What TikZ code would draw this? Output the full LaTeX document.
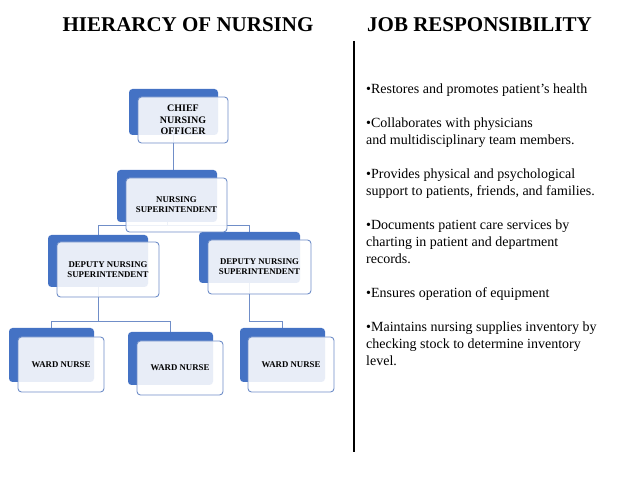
\documentclass[tikz,border=0pt]{standalone}
\usepackage{fontspec}
\setmainfont{Liberation Serif}
\definecolor{backblue}{RGB}{68,114,196}
\definecolor{edgeblue}{RGB}{112,142,200}
\pgfdeclarelayer{background}
\pgfsetlayers{background,main}
\tikzset{
  backbox/.style={draw=none, fill=backblue, rounded corners=3.5pt, inner sep=0pt},
  frontbox/.style={draw=edgeblue, line width=0.9pt, fill=white, fill opacity=0.88, text opacity=1,
     rounded corners=3.5pt, inner sep=0pt, align=center, font=\bfseries\fontsize{8.8}{10}\selectfont},
  conn/.style={draw=edgeblue, line width=0.9pt},
  header/.style={font=\bfseries\fontsize{21}{24}\selectfont, inner sep=0pt},
}
\begin{document}
\begin{tikzpicture}[x=1pt,y=-1pt]
\useasboundingbox (0,0) rectangle (638,478);
% headers
\node[header] (h1) at (188,25) {HIERARCY OF NURSING};
\node[header] (h2) at (479.5,25) {JOB RESPONSIBILITY};
% divider
\coordinate (dtop) at (354,41);
\coordinate (dbot) at (354,452);
\draw[line width=1.6pt] (dtop) -- (dbot);
% back boxes
\node[backbox, minimum width=89pt, minimum height=46pt] (cb) at (173.5,112) {};
\node[backbox, minimum width=100pt, minimum height=52pt] (nsb) at (167,196) {};
\node[backbox, minimum width=100pt, minimum height=52pt] (d1b) at (98,261) {};
\node[backbox, minimum width=101pt, minimum height=51pt] (d2b) at (249.5,257.5) {};
\node[backbox, minimum width=85pt, minimum height=54pt] (w1b) at (51.5,355) {};
\node[backbox, minimum width=85pt, minimum height=53pt] (w2b) at (170.5,358.5) {};
\node[backbox, minimum width=85pt, minimum height=54pt] (w3b) at (282.5,355) {};
% bus coordinates
\coordinate (bus1) at (0,225);
\coordinate (bus2) at (0,321);
% connectors (behind the boxes)
\begin{pgfonlayer}{background}
\draw[conn] (cb.center) -- (cb.center |- nsb.north);
\draw[conn] (nsb.center) -- (nsb.center |- bus1);
\draw[conn] (d1b.north) -- (d1b.north |- bus1) -- (d2b.north |- bus1) -- (d2b.north);
\draw[conn] (d1b.center) -- (d1b.center |- bus2);
\draw[conn] (w1b.north) -- (w1b.north |- bus2) -- (w2b.north |- bus2) -- (w2b.north);
\draw[conn] (d2b.center) -- (d2b.center |- bus2) -- (w3b.north |- bus2) -- (w3b.north);
\end{pgfonlayer}
% front boxes
\node[frontbox, minimum width=90pt, minimum height=46pt, font=\bfseries\fontsize{10}{11.5}\selectfont] (cf) at (183,120) {CHIEF\\NURSING\\OFFICER};
\node[frontbox, minimum width=101pt, minimum height=54pt] (nsf) at (176.5,205) {NURSING\\SUPERINTENDENT};
\node[frontbox, minimum width=102pt, minimum height=55pt] (d1f) at (108,269.5) {DEPUTY NURSING\\SUPERINTENDENT};
\node[frontbox, minimum width=103pt, minimum height=54pt] (d2f) at (259.5,267) {DEPUTY NURSING\\SUPERINTENDENT};
\node[frontbox, minimum width=86pt, minimum height=55pt] (w1f) at (61,364.5) {WARD NURSE};
\node[frontbox, minimum width=86pt, minimum height=54pt] (w2f) at (180,368) {WARD NURSE};
\node[frontbox, minimum width=86pt, minimum height=55pt] (w3f) at (291,364.5) {WARD NURSE};
% responsibilities
\node[anchor=north west, inner sep=0pt, align=left, font=\fontsize{14}{17}\selectfont] (resp) at (366,83.3) {%
•Restores and promotes patient’s health\\[17pt]
•Collaborates with physicians\\
and multidisciplinary team members.\\[17pt]
•Provides physical and psychological\\
support to patients, friends, and families.\\[17pt]
•Documents patient care services by\\
charting in patient and department\\
records.\\[17pt]
•Ensures operation of equipment\\[17pt]
•Maintains nursing supplies inventory by\\
checking stock to determine inventory\\
level.};
\end{tikzpicture}
\end{document}
